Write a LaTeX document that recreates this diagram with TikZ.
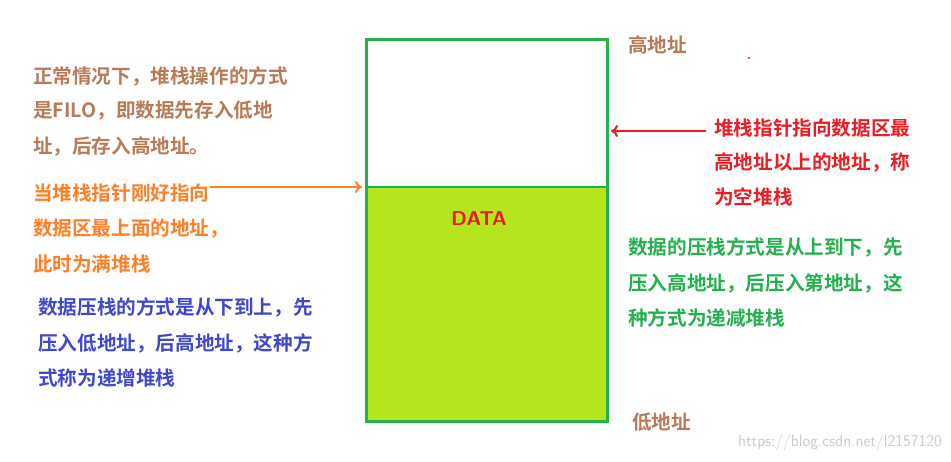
\documentclass[tikz,border=0pt]{standalone}
\usepackage{fontspec}
\newfontfamily\cjk{Noto Sans CJK SC Bold}
\usetikzlibrary{arrows.meta}
\definecolor{cbrown}{HTML}{B97A57}
\definecolor{corange}{HTML}{FF7F27}
\definecolor{cblue}{HTML}{3F48CC}
\definecolor{cred}{HTML}{ED1C24}
\definecolor{cgreen}{HTML}{22B14C}
\definecolor{clime}{HTML}{B5E61D}
\tikzset{t/.style={anchor=west,inner sep=0pt,font=\cjk\fontsize{19.6}{22}\selectfont},
 arr/.style={line width=2pt,-{To[length=7pt,width=12pt]}}}
\begin{document}
\begin{tikzpicture}[x=1pt,y=-1pt]
\useasboundingbox (0,0) rectangle (951,462);
\fill[clime] (366,187) rectangle (607,421);
\draw[cgreen,line width=3pt] (366,40) rectangle (607,421);
\draw[cgreen,line width=2pt] (366,187) -- (607,187);
\coordinate (mid) at (362,187);
\coordinate (top) at (611,131);
\node[t,anchor=center,text=cred,font=\sffamily\bfseries\fontsize{20}{22}\selectfont] (data) at (479,219) {DATA};
\node[t,text=cbrown] (hi) at (628,45) {高地址};
\node[t,text=cbrown] (lo) at (632,422) {低地址};
\fill[cred] (749,58) circle (1.2);
\node[t,text=cbrown] (a1) at (33,76) {正常情况下，堆栈操作的方式};
\node[t,text=cbrown] (a2) at (33,111) {是FILO，即数据先存入低地};
\node[t,text=cbrown] (a3) at (33,146) {址，后存入高地址。};
\node[t,text=corange] (b1) at (33,193) {当堆栈指针刚好指向};
\node[t,text=corange] (b2) at (33,229) {数据区最上面的地址，};
\node[t,text=corange] (b3) at (33,264) {此时为满堆栈};
\node[t,text=cblue] (c1) at (38,307) {数据压栈的方式是从下到上，先};
\node[t,text=cblue] (c2) at (38,343) {压入低地址，后高地址，这种方};
\node[t,text=cblue] (c3) at (38,378) {式称为递增堆栈};
\node[t,text=cred] (d1) at (714,128) {堆栈指针指向数据区最};
\node[t,text=cred] (d2) at (714,162) {高地址以上的地址，称};
\node[t,text=cred] (d3) at (714,197) {为空堆栈};
\node[t,text=cgreen] (e1) at (628,247) {数据的压栈方式是从上到下，先};
\node[t,text=cgreen] (e2) at (628,283) {压入高地址，后压入第地址，这};
\node[t,text=cgreen] (e3) at (628,318) {种方式为递减堆栈};
\coordinate (os) at (210,187);
\coordinate (rs) at (706,131);
\draw[arr,corange] (os) -- (mid);
\draw[arr,cred] (rs) -- (top);
\node[anchor=east,inner sep=0pt,text=black!20,font=\sffamily\fontsize{16.5}{18}\selectfont] (wm) at (942,442) {https://blog.csdn.net/l2157120};
\end{tikzpicture}
\end{document}
